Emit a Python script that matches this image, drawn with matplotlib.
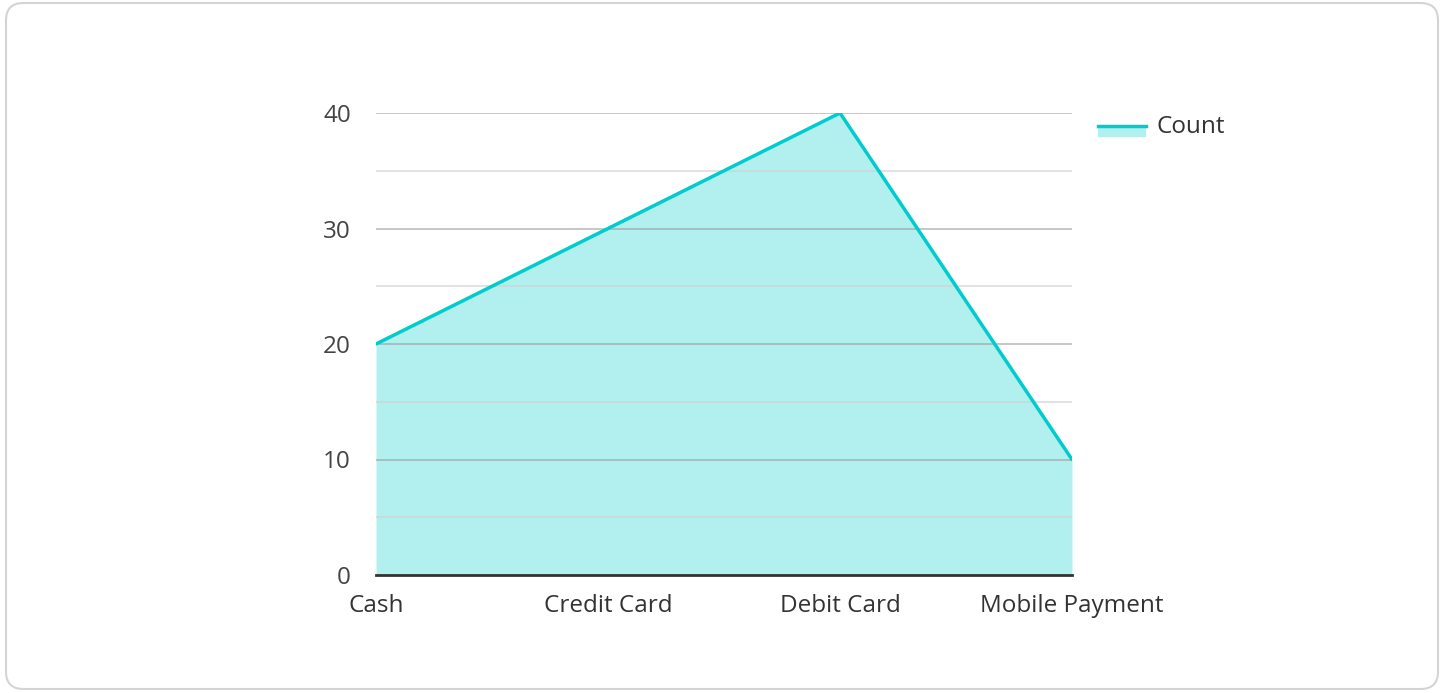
"""
Area chart: payment method counts
"""
import matplotlib
matplotlib.use('Agg')
import matplotlib.pyplot as plt
from matplotlib.patches import FancyBboxPatch, Rectangle
from matplotlib.lines import Line2D

plt.rcParams['font.family'] = ['Open Sans', 'DejaVu Sans']

categories = ['Cash', 'Credit Card', 'Debit Card', 'Mobile Payment']
counts = [20, 30, 40, 10]
series_name = 'Count'

W, H = 1447, 693
FS = 17.5
fig = plt.figure(figsize=(W / 100, H / 100), dpi=100)

# rounded card border, kept behind the axes
card = FancyBboxPatch((6 / W, 4 / H), (1438 - 6) / W, (690 - 4) / H,
                      boxstyle='round,pad=0,rounding_size=0.012',
                      transform=fig.transFigure, facecolor='none',
                      edgecolor='#d4d4d4', linewidth=1.5, mutation_aspect=W / H,
                      zorder=-1)
fig.patches.append(card)

ax = fig.add_axes([376 / W, 1 - 575 / H, (1072 - 376) / W, (575 - 113) / H])
ax.set_facecolor('none')

x = list(range(len(categories)))
line_c = '#00cccc'
ax.fill_between(x, counts, 0, color=line_c, alpha=0.3, linewidth=0, zorder=1)
ax.plot(x, counts, color=line_c, linewidth=2.5, zorder=3, solid_capstyle='round')

ax.set_xlim(0, len(categories) - 1)
ax.set_ylim(0, 40)

# grid lines: major every 10, minor every 5
for v in [10, 20, 30, 40]:
    ax.axhline(v, color='#9a9a9a', alpha=0.65, linewidth=1.2, zorder=2)
for v in [5, 15, 25, 35]:
    ax.axhline(v, color='#cfcfcf', alpha=0.7, linewidth=1.2, zorder=2)

for s in ['top', 'right', 'left']:
    ax.spines[s].set_visible(False)
ax.spines['bottom'].set_color('#333333')
ax.spines['bottom'].set_linewidth(2)
ax.spines['bottom'].set_zorder(4)

ax.set_yticks([0, 10, 20, 30, 40])
ax.set_xticks(x)
ax.set_xticklabels(categories)
ax.tick_params(axis='y', length=0, pad=18, labelsize=FS, labelcolor='#444444')
ax.tick_params(axis='x', length=0, pad=14, labelsize=FS, labelcolor='#333333')

# legend drawn by hand
fig.patches.append(Rectangle((1098 / W, 1 - 137 / H), 48 / W, 12 / H,
                             transform=fig.transFigure, facecolor=line_c,
                             alpha=0.3, edgecolor='none'))
fig.lines.append(Line2D([1098 / W, 1146 / W], [1 - 126 / H, 1 - 126 / H],
                        transform=fig.transFigure, color=line_c, linewidth=2.5))
fig.text(1156 / W, 1 - 127 / H, series_name, fontsize=FS, color='#333333',
         va='center', ha='left')

plt.savefig('out.png', dpi=100)
